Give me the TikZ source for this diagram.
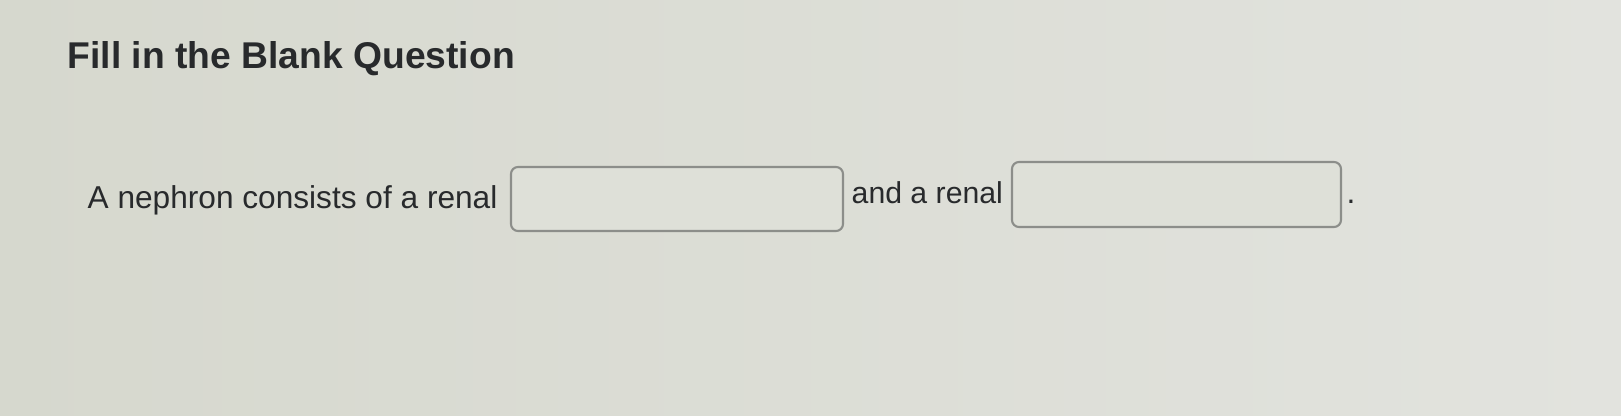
\documentclass[tikz,border=0pt]{standalone}
\usepackage{fontspec}
\setmainfont{Liberation Sans}
\definecolor{bg}{RGB}{214,216,206}
\definecolor{bgr}{RGB}{226,227,222}
\definecolor{boxfill}{RGB}{222,224,216}
\definecolor{boxline}{RGB}{140,142,138}
\definecolor{txt}{RGB}{40,42,44}
\tikzset{blank/.style={draw=boxline,fill=boxfill,rounded corners=2pt,line width=0.6pt},
 lbl/.style={anchor=base west,inner sep=0pt,text=txt,font=\fontsize{9pt}{11pt}\selectfont}}
\begin{document}
\begin{tikzpicture}
\shade[left color=bg,right color=bgr] (0,0) rectangle (16.21,4.16);
\useasboundingbox (0,0) rectangle (16.21,4.16);
\node[anchor=base west,inner sep=0pt,text=txt,font=\bfseries\fontsize{10.6pt}{13pt}\selectfont] (title) at (0.67,3.47) {Fill in the Blank Question};
\node[lbl] (t1) at (0.87,2.07) {A nephron consists of a renal};
\draw[blank] (5.11,1.85) rectangle (8.43,2.49);
\node[lbl,font=\fontsize{8.6pt}{11pt}\selectfont] (t2) at (8.51,2.12) {and a renal};
\draw[blank] (10.12,1.89) rectangle (13.41,2.54);
\node[lbl] (t3) at (13.46,2.12) {.};
\end{tikzpicture}
\end{document}
